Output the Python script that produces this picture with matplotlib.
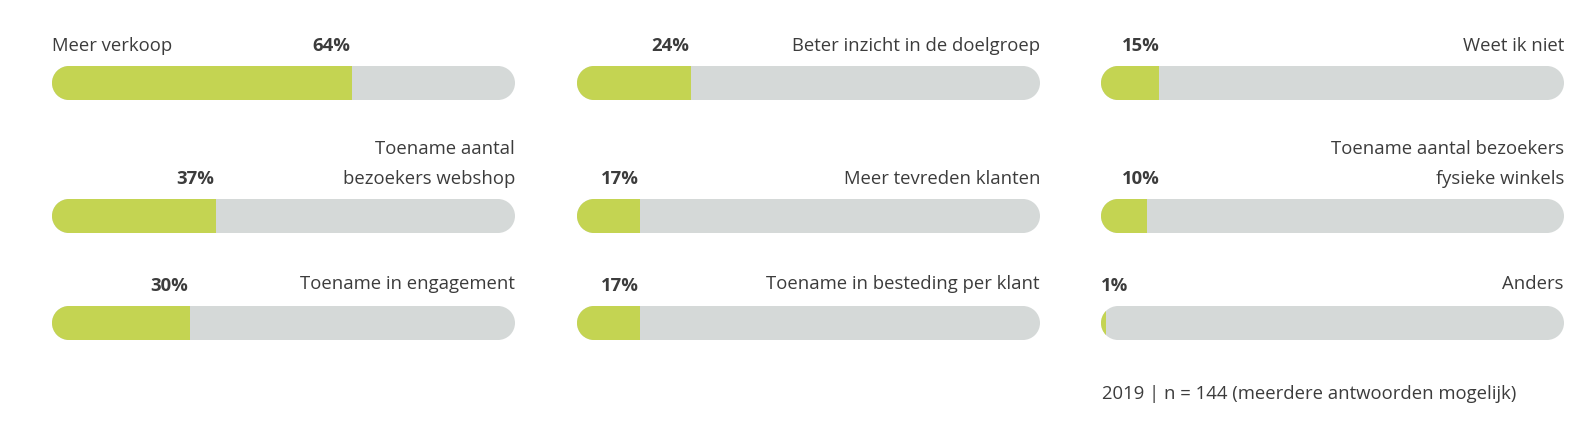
import matplotlib
matplotlib.use("Agg")
import numpy as np
import matplotlib.pyplot as plt
import matplotlib.transforms as mtransforms
from matplotlib.path import Path
from matplotlib.patches import PathPatch

# answers, top to bottom per column
labels = [
    "Meer verkoop",
    "Toename aantal\nbezoekers webshop",
    "Toename in engagement",
    "Beter inzicht in de doelgroep",
    "Meer tevreden klanten",
    "Toename in besteding per klant",
    "Weet ik niet",
    "Toename aantal bezoekers\nfysieke winkels",
    "Anders",
]
pct_labels = [64, 37, 30, 24, 17, 17, 15, 10, 1]
# filled share of each bar as drawn in the picture (%)
fill_share = [64.8, 35.4, 29.8, 24.6, 13.6, 13.6, 12.5, 10.0, 1.0]
footnote = "2019 | n = 144 (meerdere antwoorden mogelijk)"

GREEN = "#c4d452"
GREY = "#d5d9d8"
TEXT = "#3c3c3c"
FONT = "Open Sans"
FS = 13.3

W, H = 1596, 434
col_left = [52, 577, 1101]
row_top = [66, 199, 306]
bar_w, bar_h = 463, 34


def capsule(length):
    # rectangle of height 1 with half-circle ends
    right = Path.arc(-90, 90)
    left = Path.arc(90, 270)
    rv = right.vertices * 0.5 + [length - 0.5, 0.5]
    lv = left.vertices * 0.5 + [0.5, 0.5]
    verts = np.concatenate([rv, lv, [rv[0]]])
    codes = np.concatenate([right.codes, [Path.LINETO], left.codes[1:], [Path.CLOSEPOLY]])
    return Path(verts, codes)


fig = plt.figure(figsize=(W / 100, H / 100), dpi=100)

for i, (lab, p, f) in enumerate(zip(labels, pct_labels, fill_share)):
    col, row = divmod(i, 3)
    left = col_left[col]
    top = row_top[row]
    ax = fig.add_axes([left / W, (H - top - bar_h) / H, bar_w / W, bar_h / H])
    ax.set_xlim(0, 100)
    ax.set_ylim(0, 1)
    ax.axis("off")

    L = bar_w / bar_h
    shape = PathPatch(capsule(L), facecolor="none", edgecolor="none",
                      transform=mtransforms.Affine2D().scale(100 / L, 1) + ax.transData)
    ax.add_patch(shape)
    bg = ax.barh(0.5, 100, height=1, color=GREY, linewidth=0)
    fg = ax.barh(0.5, f, height=1, color=GREEN, linewidth=0)
    for b in list(bg) + list(fg):
        b.set_clip_path(shape)

    # percentage label
    if f < 5:
        px, ha = 0, "left"
    else:
        px, ha = max(f, 13) - 0.3, "right"
    ax.annotate(f"{p}%", xy=(px, 1), xytext=(0, 15), textcoords="offset pixels",
                ha=ha, va="baseline", fontsize=FS, fontweight="bold",
                color=TEXT, family=FONT, annotation_clip=False)

    # answer label, one text per line
    lines = lab.split("\n")
    if i == 0:
        lx, lha = 0, "left"
    else:
        lx, lha = 100, "right"
    for k, line in enumerate(lines):
        dy = 15 + 30 * (len(lines) - 1 - k)
        if row == 2:
            dy += 2
        ax.annotate(line, xy=(lx, 1), xytext=(0, dy), textcoords="offset pixels",
                    ha=lha, va="baseline", fontsize=FS, color=TEXT,
                    family=FONT, annotation_clip=False)

fig.text(1102 / W, 1 - 399 / H, footnote, ha="left", va="baseline",
         fontsize=FS, color=TEXT, family=FONT)

fig.savefig("out.png", dpi=100, facecolor="white")
